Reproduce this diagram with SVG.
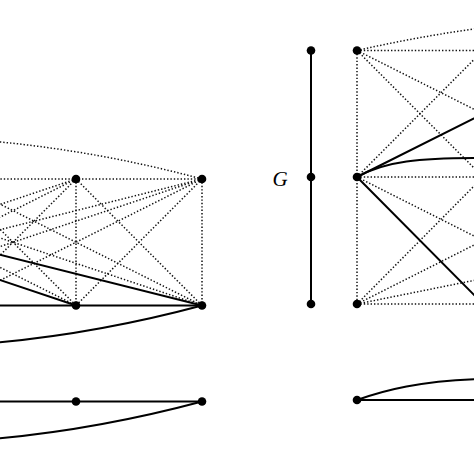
<svg xmlns="http://www.w3.org/2000/svg" width="474" height="474" viewBox="0 0 474 474">
<style>
.dot{fill:none;stroke:#111;stroke-width:1.5;stroke-dasharray:1.4 2}
.sol{fill:none;stroke:#000;stroke-width:2}
.nd{fill:#000}
.lbl{font-family:"Liberation Serif","DejaVu Serif",serif;font-style:italic;font-size:21px;fill:#000}
</style>
<rect width="474" height="474" fill="#fff"/>
<g id="connectors">
<!-- left figure -->
<path class="dot" d="M-428,179 Q-113,94 202,179"/>
<path class="dot" d="M-428,179 L202,179"/>
<path class="dot" d="M76,179 L76,305.5 M202,179 L202,305.5"/>
<path class="dot" d="M76,179 L202,305.5 M202,179 L76,305.5"/>
<path class="dot" d="M202,179 L-50,305.5 M202,179 L-176,305.5 M202,179 L-302,305.5"/>
<path class="dot" d="M76,179 L-50,305.5 M76,179 L-176,305.5 M76,179 L-302,305.5"/>
<path class="dot" d="M-50,179 L202,305.5 M-176,179 L202,305.5"/>
<path class="dot" d="M-50,179 L76,305.5 M-176,179 L76,305.5"/>
<path class="sol" d="M-302,179 L202,305.5 M-302,179 L76,305.5"/>
<path class="sol" d="M-428,305.5 L202,305.5"/>
<path class="sol" d="M-428,305.5 Q-113,390 202,305.5"/>
<path class="sol" d="M-428,401.5 L202,401.5"/>
<path class="sol" d="M-428,401.5 Q-113,486 202,401.5"/>
<!-- G -->
<path class="sol" d="M311,50.5 L311,304"/>
<!-- right figure -->
<path class="dot" d="M357,50.5 L357,304"/>
<path class="dot" d="M357,50.5 Q600,-5 900,20"/>
<path class="dot" d="M357,50.5 L987,50.5"/>
<path class="dot" d="M357,50.5 L483,177 M357,50.5 L609,177"/>
<path class="dot" d="M357,177 L483,50.5 M357,177 L987,177 M357,177 L609,304"/>
<path class="sol" d="M357,177 L609,50.5 M357,177 L483,304"/>
<path class="sol" d="M357,177 C385,161 420,158 480,158 L520,158"/>
<path class="dot" d="M357,304 L987,304 M357,304 L483,177 M357,304 L609,177 M357,304 L987,177"/>
<path class="sol" d="M357,400 L600,400"/>
<path class="sol" d="M357,400 C385,390 420,381 480,379 L520,378"/>
</g>
<g id="n-l1"><circle class="nd" cx="76" cy="179" r="4.3"/></g>
<g id="n-l2"><circle class="nd" cx="202" cy="179" r="4.3"/></g>
<g id="n-l3"><circle class="nd" cx="76" cy="305.5" r="4.3"/></g>
<g id="n-l4"><circle class="nd" cx="202" cy="305.5" r="4.3"/></g>
<g id="n-h1"><circle class="nd" cx="76" cy="401.5" r="4.3"/></g>
<g id="n-h2"><circle class="nd" cx="202" cy="401.5" r="4.3"/></g>
<g id="n-g1"><circle class="nd" cx="311" cy="50.5" r="4.3"/></g>
<g id="n-g2"><circle class="nd" cx="311" cy="177" r="4.3"/></g>
<g id="n-g3"><circle class="nd" cx="311" cy="304" r="4.3"/></g>
<g id="label-G"><text class="lbl" x="280" y="185.5" text-anchor="middle">G</text></g>
<g id="n-r1"><circle class="nd" cx="357" cy="50.5" r="4.3"/></g>
<g id="n-r2"><circle class="nd" cx="357" cy="177" r="4.3"/></g>
<g id="n-r3"><circle class="nd" cx="357" cy="304" r="4.3"/></g>
<g id="n-h3"><circle class="nd" cx="357" cy="400" r="4.3"/></g>
</svg>
